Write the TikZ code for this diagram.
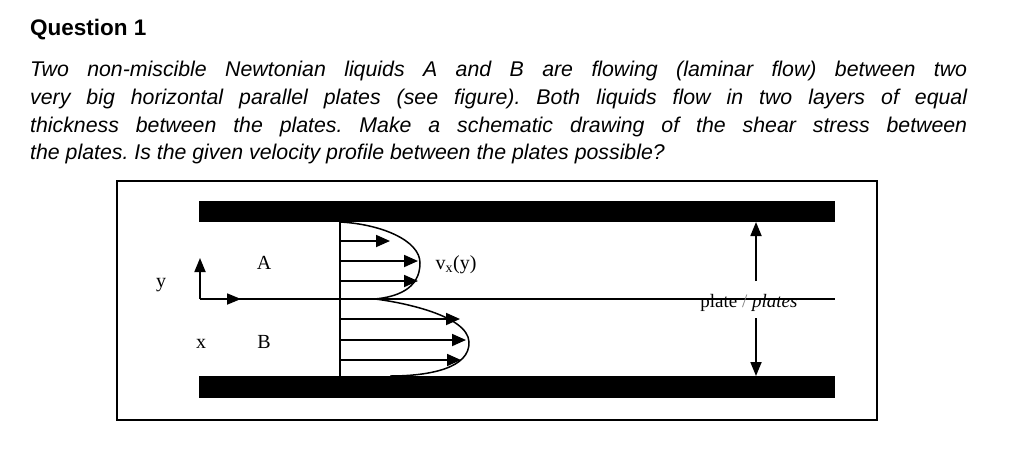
\documentclass[tikz,border=0pt]{standalone}
\usepackage{fontspec}
\setmainfont{Liberation Serif}
\newfontfamily\arialf{Liberation Sans}
\usetikzlibrary{arrows.meta}
\begin{document}
\frenchspacing
\begin{tikzpicture}[x=1pt,y=-1pt,
  plate/.style={fill=black,draw=none},
  vel/.style={line width=1.8pt,-{Triangle[length=14pt,width=12pt]}},
  ax/.style={line width=1.8pt,-{Triangle[length=14pt,width=11pt]}},
  lbl/.style={font=\fontsize{20}{24}\selectfont,inner sep=0pt}]
\useasboundingbox (0,0) rectangle (1024,453);
\node[anchor=base west,inner sep=0pt,font=\arialf\bfseries\fontsize{22.5}{26}\selectfont] (title) at (30,35) {Question 1};
\node[anchor=north west,inner sep=0pt,text width=937pt,align=justify,font=\arialf\itshape\fontsize{21.3}{27.7}\selectfont] (txt) at (30,61)
{Two non-miscible Newtonian liquids A and B are flowing (laminar flow) between two\linebreak very big horizontal parallel plates (see figure). Both liquids flow in two layers of equal\linebreak thickness between the plates. Make a schematic drawing of the shear stress between\linebreak the plates. Is the given velocity profile between the plates possible?};
\draw[line width=2pt] (117,181) rectangle (877,420);
\path[plate] (199,201) rectangle (835,222);
\path[plate] (199,376) rectangle (835,398);
\coordinate (o) at (200,299);
\coordinate (mr) at (835,299);
\draw[line width=1.5pt] (o) -- (mr);
\draw[ax] (o) -- (200,258);
\draw[ax] (o) -- (241,299);
\coordinate (pt) at (340,222);
\coordinate (pb) at (340,376);
\draw[line width=1.5pt] (pt) -- (pb);
\draw[line width=1.5pt] (pt) .. controls (380,224) and (420,240) .. (420,263) .. controls (420,290) and (395,297) .. (375,299)
  .. controls (400,302) and (468,315) .. (469,342) .. controls (470,368) and (430,376) .. (390,376);
\foreach \y/\xe in {241/390,261/418,281/418,319/460,340/466,360/461}
  \draw[vel] (340,\y) -- (\xe,\y);
\node[lbl] (A) at (264,263) {A};
\node[lbl] (B) at (264,342) {B};
\node[lbl] (ylab) at (161,285) {y};
\node[lbl] (xlab) at (201,344) {x};
\node[lbl] (v) at (456,265) {v\textsubscript{x}(y)};
\node[lbl,font=\fontsize{19}{22}\selectfont] (pl) at (749,303) {plate {\color{gray}/} \textit{plates}};
\draw[ax] (756,281) -- (756,222);
\draw[ax] (756,318) -- (756,376);
\end{tikzpicture}
\end{document}
